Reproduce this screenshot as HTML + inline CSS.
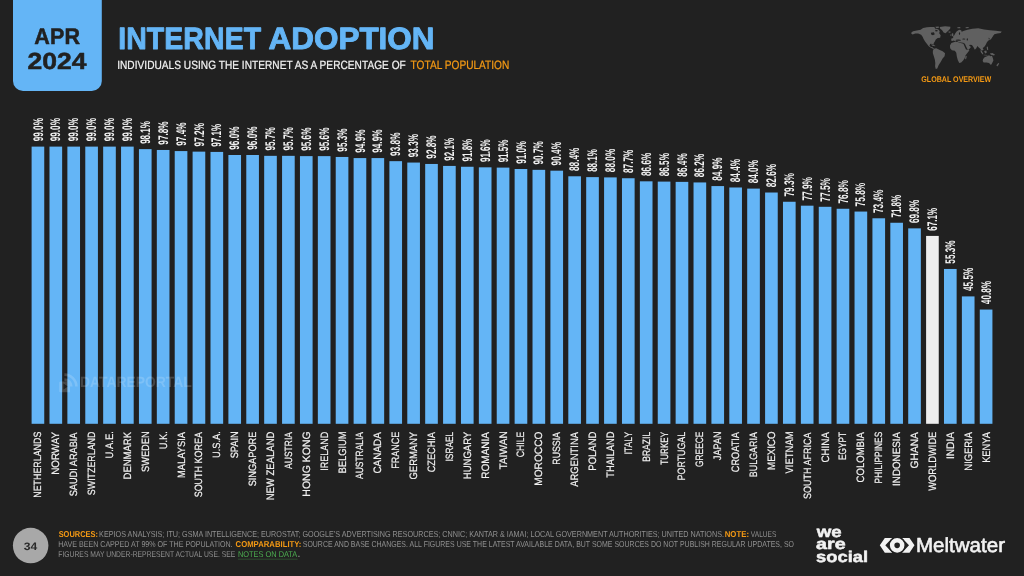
<!DOCTYPE html>
<html lang="en">
<head>
<meta charset="utf-8">
<title>Internet Adoption</title>
<style>
html,body{margin:0;padding:0;background:#212121;}
body{width:1024px;height:576px;overflow:hidden;font-family:'Liberation Sans', sans-serif;}
svg{display:block;will-change:transform;}
</style>
</head>
<body>
<svg width="1024" height="576" viewBox="0 0 1024 576" font-family="'Liberation Sans', sans-serif" text-rendering="geometricPrecision">
<rect width="1024" height="576" fill="#212121"/>
<path d="M13 0H101.8V80.9a10 10 0 0 1-10 10H23a10 10 0 0 1-10-10Z" fill="#64b5f6"/>
<g id="bars">
<rect x="31.6" y="146.6" width="12.65" height="277.2" fill="#64b5f6"/>
<rect x="49.49" y="146.6" width="12.65" height="277.2" fill="#64b5f6"/>
<rect x="67.38" y="146.6" width="12.65" height="277.2" fill="#64b5f6"/>
<rect x="85.27" y="146.6" width="12.65" height="277.2" fill="#64b5f6"/>
<rect x="103.16" y="146.6" width="12.65" height="277.2" fill="#64b5f6"/>
<rect x="121.05" y="146.6" width="12.65" height="277.2" fill="#64b5f6"/>
<rect x="138.94" y="149.12" width="12.65" height="274.68" fill="#64b5f6"/>
<rect x="156.83" y="149.96" width="12.65" height="273.84" fill="#64b5f6"/>
<rect x="174.72" y="151.08" width="12.65" height="272.72" fill="#64b5f6"/>
<rect x="192.61" y="151.64" width="12.65" height="272.16" fill="#64b5f6"/>
<rect x="210.5" y="151.92" width="12.65" height="271.88" fill="#64b5f6"/>
<rect x="228.39" y="155" width="12.65" height="268.8" fill="#64b5f6"/>
<rect x="246.28" y="155" width="12.65" height="268.8" fill="#64b5f6"/>
<rect x="264.17" y="155.84" width="12.65" height="267.96" fill="#64b5f6"/>
<rect x="282.06" y="155.84" width="12.65" height="267.96" fill="#64b5f6"/>
<rect x="299.95" y="156.12" width="12.65" height="267.68" fill="#64b5f6"/>
<rect x="317.84" y="156.12" width="12.65" height="267.68" fill="#64b5f6"/>
<rect x="335.73" y="156.96" width="12.65" height="266.84" fill="#64b5f6"/>
<rect x="353.62" y="158.08" width="12.65" height="265.72" fill="#64b5f6"/>
<rect x="371.51" y="158.08" width="12.65" height="265.72" fill="#64b5f6"/>
<rect x="389.4" y="161.16" width="12.65" height="262.64" fill="#64b5f6"/>
<rect x="407.29" y="162.56" width="12.65" height="261.24" fill="#64b5f6"/>
<rect x="425.18" y="163.96" width="12.65" height="259.84" fill="#64b5f6"/>
<rect x="443.07" y="165.92" width="12.65" height="257.88" fill="#64b5f6"/>
<rect x="460.96" y="166.76" width="12.65" height="257.04" fill="#64b5f6"/>
<rect x="478.85" y="167.32" width="12.65" height="256.48" fill="#64b5f6"/>
<rect x="496.74" y="167.6" width="12.65" height="256.2" fill="#64b5f6"/>
<rect x="514.63" y="169" width="12.65" height="254.8" fill="#64b5f6"/>
<rect x="532.52" y="169.84" width="12.65" height="253.96" fill="#64b5f6"/>
<rect x="550.41" y="170.68" width="12.65" height="253.12" fill="#64b5f6"/>
<rect x="568.3" y="176.28" width="12.65" height="247.52" fill="#64b5f6"/>
<rect x="586.19" y="177.12" width="12.65" height="246.68" fill="#64b5f6"/>
<rect x="604.08" y="177.4" width="12.65" height="246.4" fill="#64b5f6"/>
<rect x="621.97" y="178.24" width="12.65" height="245.56" fill="#64b5f6"/>
<rect x="639.86" y="181.32" width="12.65" height="242.48" fill="#64b5f6"/>
<rect x="657.75" y="181.6" width="12.65" height="242.2" fill="#64b5f6"/>
<rect x="675.64" y="181.88" width="12.65" height="241.92" fill="#64b5f6"/>
<rect x="693.53" y="182.44" width="12.65" height="241.36" fill="#64b5f6"/>
<rect x="711.42" y="186.08" width="12.65" height="237.72" fill="#64b5f6"/>
<rect x="729.31" y="187.48" width="12.65" height="236.32" fill="#64b5f6"/>
<rect x="747.2" y="188.6" width="12.65" height="235.2" fill="#64b5f6"/>
<rect x="765.09" y="192.52" width="12.65" height="231.28" fill="#64b5f6"/>
<rect x="782.98" y="201.76" width="12.65" height="222.04" fill="#64b5f6"/>
<rect x="800.87" y="205.68" width="12.65" height="218.12" fill="#64b5f6"/>
<rect x="818.76" y="206.8" width="12.65" height="217" fill="#64b5f6"/>
<rect x="836.65" y="208.76" width="12.65" height="215.04" fill="#64b5f6"/>
<rect x="854.54" y="211.56" width="12.65" height="212.24" fill="#64b5f6"/>
<rect x="872.43" y="218.28" width="12.65" height="205.52" fill="#64b5f6"/>
<rect x="890.32" y="222.76" width="12.65" height="201.04" fill="#64b5f6"/>
<rect x="908.21" y="228.36" width="12.65" height="195.44" fill="#64b5f6"/>
<rect x="926.1" y="235.92" width="12.65" height="187.88" fill="#eeeeee"/>
<rect x="943.99" y="268.96" width="12.65" height="154.84" fill="#64b5f6"/>
<rect x="961.88" y="296.4" width="12.65" height="127.4" fill="#64b5f6"/>
<rect x="979.77" y="309.56" width="12.65" height="114.24" fill="#64b5f6"/>
</g>
<g id="map">
<g transform="translate(906 22) scale(0.09766)" fill="#606060">
<path d="M55 108L72 95L110 88L150 80L175 62L215 55L250 50L290 52L300 70L330 75L345 95L340 115L355 135L350 160L325 165L305 180L295 200L285 215L280 235L270 225L250 222L240 240L255 255L272 258L285 272L290 280L270 272L250 262L230 245L215 225L195 200L180 175L170 150L155 130L125 118L95 118L68 128L55 120Z"/>
<path d="M345 50L400 44L455 48L452 68L430 92L405 116L385 108L368 82L350 68Z"/>
<path d="M300 48L335 46L338 60L310 64Z"/>
<path d="M285 275L310 270L340 285L375 300L400 320L395 350L375 375L355 410L335 440L320 475L305 482L298 455L300 420L295 385L285 350L275 320L275 295Z"/>
<path d="M462 190L465 170L485 165L480 150L495 135L505 115L520 95L545 80L565 85L570 100L595 90L630 80L680 70L740 65L800 78L860 85L920 90L980 98L970 112L935 118L905 125L885 150L865 170L845 160L850 185L830 205L815 235L800 255L785 265L795 285L775 295L760 275L745 260L730 245L720 270L705 285L690 255L675 235L655 232L645 238L665 255L655 270L635 288L618 255L603 222L585 212L560 210L540 205L520 195L505 200L490 190L475 195Z"/>
<path d="M450 240L465 215L495 205L530 205L560 215L588 222L600 250L614 282L650 288L630 315L610 340L600 370L585 395L565 415L545 420L530 390L520 350L515 315L500 295L470 290L452 270Z"/>
<path d="M608 350L622 345L618 375L605 385Z"/>
<path d="M790 380L805 360L830 350L850 340L865 350L880 345L890 370L895 395L880 425L870 440L850 420L825 415L795 415L785 400Z"/>
<path d="M760 290L775 295L792 325L785 332L768 312Z"/>
<path d="M800 298L822 292L828 312L810 322Z"/>
<path d="M826 255L838 252L842 288L830 285Z"/>
<path d="M858 322L885 318L912 335L900 342L870 336Z"/>
<path d="M795 335L835 338L835 344L795 341Z"/>
<path d="M862 150L880 135L886 150L872 175L855 186L852 178Z"/>
<path d="M468 120L482 112L486 140L470 148Z"/>
<path d="M455 128L464 126L464 140L455 140Z"/>
<path d="M435 98L455 96L457 107L438 109Z"/>
<path d="M925 442L945 420L955 426L936 456Z"/>
<path d="M525 55L555 52L557 63L528 65Z"/>
<path d="M610 55L640 52L642 62L612 64Z"/>
<path d="M255 228L285 236L300 244L298 249L270 242Z"/>
<g fill="#212121">
<path d="M255 110L285 105L295 125L275 136L258 128Z"/>
<path d="M300 80L325 85L320 98L300 95Z"/>
<ellipse cx="535" cy="186" rx="28" ry="7"/>
<ellipse cx="592" cy="174" rx="16" ry="6"/>
<ellipse cx="628" cy="178" rx="6" ry="12"/>
<ellipse cx="548" cy="118" rx="6" ry="14"/>
</g>
</g>

</g>
<circle cx="30.65" cy="545.6" r="17.75" fill="#a8a8a8"/>
<g id="wm-icon" fill="none" stroke="#fff" stroke-opacity="0.17" stroke-width="2.6">
<path d="M64.4 374.6a12 12 0 0 1 12 12"/>
<path d="M64.4 379.6a7 7 0 0 1 7 7"/>
</g>
<path d="M60.2 381.6h5.6a4.2 4.2 0 0 1 4.2 4.2v6.4h-9.6a1.2 1.2 0 0 1-1.2-1.2v-8.2a1.2 1.2 0 0 1 1-1.2ZM63.4 383.6v5.8l4.6-2.9Z" fill="#fff" fill-opacity="0.17" fill-rule="evenodd"/>
<g id="meltwater" fill="#f2f2f2">
<path d="M884.8 538h7.4l-6.9 7.35 6.9 7.35h-7.4l-5-7.35Z"/>
<path d="M909.5 538h-7.4l6.9 7.35-6.9 7.35h7.4l5-7.35Z"/>
<circle cx="897.15" cy="545.35" r="8.5" fill="#212121"/>
<circle cx="897.15" cy="545.35" r="5.05" fill="none" stroke="#f2f2f2" stroke-width="4.5"/>
</g>
<line x1="238.5" y1="559.2" x2="297.3" y2="559.2" stroke="#4caf50" stroke-width="0.6" stroke-dasharray="1 1"/>
<g id="labels">
<text transform="translate(34.32 43.5) scale(0.09619 0.10000)" font-size="225" font-weight="bold" stroke="#212121" stroke-width="5" stroke-linejoin="round" fill="#212121">APR</text>
<text transform="translate(27.46 69) scale(0.11414 0.10000)" font-size="232.14" font-weight="bold" stroke="#212121" stroke-width="5" stroke-linejoin="round" fill="#212121">2024</text>
<text transform="translate(118.23 48.95) scale(0.09222 0.10000)" font-size="310" font-weight="bold" stroke="#64b5f6" stroke-width="9" stroke-linejoin="round" fill="#64b5f6">INTERNET</text>
<text transform="translate(268.52 48.95) scale(0.10145 0.10000)" font-size="310" font-weight="bold" stroke="#64b5f6" stroke-width="9" stroke-linejoin="round" fill="#64b5f6">ADOPTION</text>
<text transform="translate(117.21 69.38) scale(0.08441 0.10000)" font-size="120.42" stroke="#f2f2f2" stroke-width="2.5" stroke-linejoin="round" fill="#f2f2f2">INDIVIDUALS USING THE INTERNET AS A PERCENTAGE OF</text>
<text transform="translate(410.62 69.38) scale(0.08295 0.10000)" font-size="122.14" stroke="#f59a14" stroke-width="2.5" stroke-linejoin="round" fill="#f59a14">TOTAL POPULATION</text>
<text transform="translate(921.32 81.8) scale(0.08564 0.10000)" font-size="82.86" font-weight="bold" fill="#f59a14">GLOBAL OVERVIEW</text>
<text transform="translate(23.76 549.7) scale(0.11175 0.10000)" font-size="108.57" font-weight="bold" fill="#2a2a2a">34</text>
<text transform="translate(58.65 536.9) scale(0.08696 0.10000)" font-size="85.71" font-weight="bold" fill="#f59a14">SOURCES:</text>
<text transform="translate(99.12 536.9) scale(0.08301 0.10000)" font-size="86.96" fill="#909090">KEPIOS ANALYSIS; ITU; GSMA INTELLIGENCE; EUROSTAT; GOOGLE’S ADVERTISING RESOURCES; CNNIC; KANTAR &amp; IAMAI; LOCAL GOVERNMENT AUTHORITIES; UNITED NATIONS.</text>
<text transform="translate(724.73 536.9) scale(0.09111 0.10000)" font-size="85.71" font-weight="bold" fill="#f59a14">NOTE:</text>
<text transform="translate(750.8 536.9) scale(0.07837 0.10000)" font-size="84.51" fill="#909090">VALUES</text>
<text transform="translate(58.23 547.2) scale(0.08275 0.10000)" font-size="85.71" fill="#909090">HAVE BEEN CAPPED AT 99% OF THE POPULATION.</text>
<text transform="translate(235.59 547.2) scale(0.09017 0.10000)" font-size="85.71" font-weight="bold" fill="#f59a14">COMPARABILITY:</text>
<text transform="translate(302.72 547.2) scale(0.08037 0.10000)" font-size="86.96" fill="#909090">SOURCE AND BASE CHANGES. ALL FIGURES USE THE LATEST AVAILABLE DATA, BUT SOME SOURCES DO NOT PUBLISH REGULAR UPDATES, SO</text>
<text transform="translate(58.26 557.2) scale(0.08032 0.10000)" font-size="84.51" fill="#909090">FIGURES MAY UNDER-REPRESENT ACTUAL USE. SEE</text>
<text transform="translate(237.91 557.2) scale(0.08761 0.10000)" font-size="84.51" fill="#4caf50">NOTES ON DATA</text>
<text transform="translate(297.22 557.2) scale(0.11000 0.10000)" font-size="109.09" fill="#909090">.</text>
<text transform="translate(816.69 536.65) scale(0.12025 0.10000)" font-size="155.56" font-weight="bold" stroke="#f2f2f2" stroke-width="5" stroke-linejoin="round" fill="#f2f2f2">we</text>
<text transform="translate(816.1 549.25) scale(0.12700 0.10000)" font-size="155.56" font-weight="bold" stroke="#f2f2f2" stroke-width="5" stroke-linejoin="round" fill="#f2f2f2">are</text>
<text transform="translate(815.95 562.05) scale(0.11825 0.10000)" font-size="155.56" font-weight="bold" stroke="#f2f2f2" stroke-width="5" stroke-linejoin="round" fill="#f2f2f2">social</text>
<text transform="translate(915.96 552.4) scale(0.10049 0.10000)" font-size="204.35" stroke="#f2f2f2" stroke-width="6" stroke-linejoin="round" fill="#f2f2f2">Meltwater</text>
<text transform="translate(79.97 386.7) scale(0.09255 0.10000)" font-size="150" font-weight="bold" fill="rgba(255,255,255,0.17)">DATAREPORTAL</text>
<text transform="translate(41.43 497.71) rotate(-90) scale(0.08396 0.10000)" font-size="105.63" stroke="#f2f2f2" stroke-width="2" stroke-linejoin="round" fill="#f2f2f2">NETHERLANDS</text>
<text transform="translate(42.53 141.35) rotate(-90) scale(0.05896 0.10000)" font-size="140" font-weight="bold" fill="#f2f2f2">99.0%</text>
<text transform="translate(59.32 474.79) rotate(-90) scale(0.09173 0.10000)" font-size="107.14" stroke="#f2f2f2" stroke-width="2" stroke-linejoin="round" fill="#f2f2f2">NORWAY</text>
<text transform="translate(60.42 141.35) rotate(-90) scale(0.05896 0.10000)" font-size="140" font-weight="bold" fill="#f2f2f2">99.0%</text>
<text transform="translate(77.2 496.27) rotate(-90) scale(0.08685 0.10000)" font-size="105.63" stroke="#f2f2f2" stroke-width="2" stroke-linejoin="round" fill="#f2f2f2">SAUDI ARABIA</text>
<text transform="translate(78.3 141.35) rotate(-90) scale(0.05896 0.10000)" font-size="140" font-weight="bold" fill="#f2f2f2">99.0%</text>
<text transform="translate(95.1 495.15) rotate(-90) scale(0.08391 0.10000)" font-size="105.63" stroke="#f2f2f2" stroke-width="2" stroke-linejoin="round" fill="#f2f2f2">SWITZERLAND</text>
<text transform="translate(96.2 141.35) rotate(-90) scale(0.05896 0.10000)" font-size="140" font-weight="bold" fill="#f2f2f2">99.0%</text>
<text transform="translate(112.98 458.56) rotate(-90) scale(0.08722 0.10000)" font-size="108.7" stroke="#f2f2f2" stroke-width="2" stroke-linejoin="round" fill="#f2f2f2">U.A.E.</text>
<text transform="translate(114.08 141.35) rotate(-90) scale(0.05896 0.10000)" font-size="140" font-weight="bold" fill="#f2f2f2">99.0%</text>
<text transform="translate(130.88 479.46) rotate(-90) scale(0.08871 0.10000)" font-size="107.14" stroke="#f2f2f2" stroke-width="2" stroke-linejoin="round" fill="#f2f2f2">DENMARK</text>
<text transform="translate(131.98 141.35) rotate(-90) scale(0.05896 0.10000)" font-size="140" font-weight="bold" fill="#f2f2f2">99.0%</text>
<text transform="translate(148.76 471.97) rotate(-90) scale(0.08765 0.10000)" font-size="105.63" stroke="#f2f2f2" stroke-width="2" stroke-linejoin="round" fill="#f2f2f2">SWEDEN</text>
<text transform="translate(149.86 143.86) rotate(-90) scale(0.05717 0.10000)" font-size="140" font-weight="bold" fill="#f2f2f2">98.1%</text>
<text transform="translate(166.66 449.25) rotate(-90) scale(0.08546 0.10000)" font-size="108.7" stroke="#f2f2f2" stroke-width="2" stroke-linejoin="round" fill="#f2f2f2">U.K.</text>
<text transform="translate(167.75 144.71) rotate(-90) scale(0.05896 0.10000)" font-size="140" font-weight="bold" fill="#f2f2f2">97.8%</text>
<text transform="translate(184.54 477.95) rotate(-90) scale(0.08821 0.10000)" font-size="105.63" stroke="#f2f2f2" stroke-width="2" stroke-linejoin="round" fill="#f2f2f2">MALAYSIA</text>
<text transform="translate(185.64 145.83) rotate(-90) scale(0.05896 0.10000)" font-size="140" font-weight="bold" fill="#f2f2f2">97.4%</text>
<text transform="translate(202.43 497.36) rotate(-90) scale(0.08497 0.10000)" font-size="105.63" stroke="#f2f2f2" stroke-width="2" stroke-linejoin="round" fill="#f2f2f2">SOUTH KOREA</text>
<text transform="translate(203.53 146.39) rotate(-90) scale(0.05896 0.10000)" font-size="140" font-weight="bold" fill="#f2f2f2">97.2%</text>
<text transform="translate(220.32 458.05) rotate(-90) scale(0.08802 0.10000)" font-size="105.63" stroke="#f2f2f2" stroke-width="2" stroke-linejoin="round" fill="#f2f2f2">U.S.A.</text>
<text transform="translate(221.42 146.66) rotate(-90) scale(0.05717 0.10000)" font-size="140" font-weight="bold" fill="#f2f2f2">97.1%</text>
<text transform="translate(238.22 458.27) rotate(-90) scale(0.08711 0.10000)" font-size="105.63" stroke="#f2f2f2" stroke-width="2" stroke-linejoin="round" fill="#f2f2f2">SPAIN</text>
<text transform="translate(239.31 149.75) rotate(-90) scale(0.05896 0.10000)" font-size="140" font-weight="bold" fill="#f2f2f2">96.0%</text>
<text transform="translate(256.1 486.37) rotate(-90) scale(0.08710 0.10000)" font-size="105.63" stroke="#f2f2f2" stroke-width="2" stroke-linejoin="round" fill="#f2f2f2">SINGAPORE</text>
<text transform="translate(257.2 149.75) rotate(-90) scale(0.05896 0.10000)" font-size="140" font-weight="bold" fill="#f2f2f2">96.0%</text>
<text transform="translate(274 500.36) rotate(-90) scale(0.08758 0.10000)" font-size="108.7" stroke="#f2f2f2" stroke-width="2" stroke-linejoin="round" fill="#f2f2f2">NEW ZEALAND</text>
<text transform="translate(275.1 150.59) rotate(-90) scale(0.05896 0.10000)" font-size="140" font-weight="bold" fill="#f2f2f2">95.7%</text>
<text transform="translate(291.88 468.9) rotate(-90) scale(0.08054 0.10000)" font-size="105.63" stroke="#f2f2f2" stroke-width="2" stroke-linejoin="round" fill="#f2f2f2">AUSTRIA</text>
<text transform="translate(292.99 150.59) rotate(-90) scale(0.05896 0.10000)" font-size="140" font-weight="bold" fill="#f2f2f2">95.7%</text>
<text transform="translate(309.78 496.64) rotate(-90) scale(0.09802 0.10000)" font-size="107.14" stroke="#f2f2f2" stroke-width="2" stroke-linejoin="round" fill="#f2f2f2">HONG KONG</text>
<text transform="translate(310.88 150.87) rotate(-90) scale(0.05896 0.10000)" font-size="140" font-weight="bold" fill="#f2f2f2">95.6%</text>
<text transform="translate(327.67 470.71) rotate(-90) scale(0.08418 0.10000)" font-size="107.14" stroke="#f2f2f2" stroke-width="2" stroke-linejoin="round" fill="#f2f2f2">IRELAND</text>
<text transform="translate(328.77 150.87) rotate(-90) scale(0.05896 0.10000)" font-size="140" font-weight="bold" fill="#f2f2f2">95.6%</text>
<text transform="translate(345.56 473.55) rotate(-90) scale(0.08758 0.10000)" font-size="107.14" stroke="#f2f2f2" stroke-width="2" stroke-linejoin="round" fill="#f2f2f2">BELGIUM</text>
<text transform="translate(346.66 151.71) rotate(-90) scale(0.05896 0.10000)" font-size="140" font-weight="bold" fill="#f2f2f2">95.3%</text>
<text transform="translate(363.44 479) rotate(-90) scale(0.08002 0.10000)" font-size="105.63" stroke="#f2f2f2" stroke-width="2" stroke-linejoin="round" fill="#f2f2f2">AUSTRALIA</text>
<text transform="translate(364.55 152.83) rotate(-90) scale(0.05896 0.10000)" font-size="140" font-weight="bold" fill="#f2f2f2">94.9%</text>
<text transform="translate(381.34 473.6) rotate(-90) scale(0.09310 0.10000)" font-size="107.14" stroke="#f2f2f2" stroke-width="2" stroke-linejoin="round" fill="#f2f2f2">CANADA</text>
<text transform="translate(382.44 152.83) rotate(-90) scale(0.05896 0.10000)" font-size="140" font-weight="bold" fill="#f2f2f2">94.9%</text>
<text transform="translate(399.23 468.72) rotate(-90) scale(0.08412 0.10000)" font-size="107.14" stroke="#f2f2f2" stroke-width="2" stroke-linejoin="round" fill="#f2f2f2">FRANCE</text>
<text transform="translate(400.33 155.91) rotate(-90) scale(0.05896 0.10000)" font-size="140" font-weight="bold" fill="#f2f2f2">93.8%</text>
<text transform="translate(417.12 479.47) rotate(-90) scale(0.08792 0.10000)" font-size="107.14" stroke="#f2f2f2" stroke-width="2" stroke-linejoin="round" fill="#f2f2f2">GERMANY</text>
<text transform="translate(418.22 157.31) rotate(-90) scale(0.05896 0.10000)" font-size="140" font-weight="bold" fill="#f2f2f2">93.3%</text>
<text transform="translate(435.01 472.26) rotate(-90) scale(0.08555 0.10000)" font-size="107.14" stroke="#f2f2f2" stroke-width="2" stroke-linejoin="round" fill="#f2f2f2">CZECHIA</text>
<text transform="translate(436.11 158.71) rotate(-90) scale(0.05896 0.10000)" font-size="140" font-weight="bold" fill="#f2f2f2">92.8%</text>
<text transform="translate(452.9 461.45) rotate(-90) scale(0.07896 0.10000)" font-size="105.63" stroke="#f2f2f2" stroke-width="2" stroke-linejoin="round" fill="#f2f2f2">ISRAEL</text>
<text transform="translate(454 160.66) rotate(-90) scale(0.05717 0.10000)" font-size="140" font-weight="bold" fill="#f2f2f2">92.1%</text>
<text transform="translate(470.79 479.16) rotate(-90) scale(0.08864 0.10000)" font-size="107.14" stroke="#f2f2f2" stroke-width="2" stroke-linejoin="round" fill="#f2f2f2">HUNGARY</text>
<text transform="translate(471.89 161.5) rotate(-90) scale(0.05717 0.10000)" font-size="140" font-weight="bold" fill="#f2f2f2">91.8%</text>
<text transform="translate(488.68 478.7) rotate(-90) scale(0.09333 0.10000)" font-size="107.14" stroke="#f2f2f2" stroke-width="2" stroke-linejoin="round" fill="#f2f2f2">ROMANIA</text>
<text transform="translate(489.78 162.06) rotate(-90) scale(0.05717 0.10000)" font-size="140" font-weight="bold" fill="#f2f2f2">91.6%</text>
<text transform="translate(506.56 469.6) rotate(-90) scale(0.09337 0.10000)" font-size="108.7" stroke="#f2f2f2" stroke-width="2" stroke-linejoin="round" fill="#f2f2f2">TAIWAN</text>
<text transform="translate(507.67 162.34) rotate(-90) scale(0.05717 0.10000)" font-size="140" font-weight="bold" fill="#f2f2f2">91.5%</text>
<text transform="translate(524.46 457.13) rotate(-90) scale(0.08065 0.10000)" font-size="107.14" stroke="#f2f2f2" stroke-width="2" stroke-linejoin="round" fill="#f2f2f2">CHILE</text>
<text transform="translate(525.56 163.74) rotate(-90) scale(0.05717 0.10000)" font-size="140" font-weight="bold" fill="#f2f2f2">91.0%</text>
<text transform="translate(542.35 485.81) rotate(-90) scale(0.09503 0.10000)" font-size="107.14" stroke="#f2f2f2" stroke-width="2" stroke-linejoin="round" fill="#f2f2f2">MOROCCO</text>
<text transform="translate(543.45 164.59) rotate(-90) scale(0.05896 0.10000)" font-size="140" font-weight="bold" fill="#f2f2f2">90.7%</text>
<text transform="translate(560.24 464.7) rotate(-90) scale(0.08308 0.10000)" font-size="105.63" stroke="#f2f2f2" stroke-width="2" stroke-linejoin="round" fill="#f2f2f2">RUSSIA</text>
<text transform="translate(561.34 165.43) rotate(-90) scale(0.05896 0.10000)" font-size="140" font-weight="bold" fill="#f2f2f2">90.4%</text>
<text transform="translate(578.13 486.7) rotate(-90) scale(0.08747 0.10000)" font-size="107.14" stroke="#f2f2f2" stroke-width="2" stroke-linejoin="round" fill="#f2f2f2">ARGENTINA</text>
<text transform="translate(579.23 171.03) rotate(-90) scale(0.05896 0.10000)" font-size="140" font-weight="bold" fill="#f2f2f2">88.4%</text>
<text transform="translate(596.02 470.66) rotate(-90) scale(0.08865 0.10000)" font-size="107.14" stroke="#f2f2f2" stroke-width="2" stroke-linejoin="round" fill="#f2f2f2">POLAND</text>
<text transform="translate(597.12 171.86) rotate(-90) scale(0.05717 0.10000)" font-size="140" font-weight="bold" fill="#f2f2f2">88.1%</text>
<text transform="translate(613.91 477.79) rotate(-90) scale(0.08591 0.10000)" font-size="108.7" stroke="#f2f2f2" stroke-width="2" stroke-linejoin="round" fill="#f2f2f2">THAILAND</text>
<text transform="translate(615.01 172.15) rotate(-90) scale(0.05896 0.10000)" font-size="140" font-weight="bold" fill="#f2f2f2">88.0%</text>
<text transform="translate(631.8 454.58) rotate(-90) scale(0.07948 0.10000)" font-size="108.7" stroke="#f2f2f2" stroke-width="2" stroke-linejoin="round" fill="#f2f2f2">ITALY</text>
<text transform="translate(632.9 172.99) rotate(-90) scale(0.05896 0.10000)" font-size="140" font-weight="bold" fill="#f2f2f2">87.7%</text>
<text transform="translate(649.69 461.79) rotate(-90) scale(0.08000 0.10000)" font-size="107.14" stroke="#f2f2f2" stroke-width="2" stroke-linejoin="round" fill="#f2f2f2">BRAZIL</text>
<text transform="translate(650.79 176.07) rotate(-90) scale(0.05896 0.10000)" font-size="140" font-weight="bold" fill="#f2f2f2">86.6%</text>
<text transform="translate(667.58 464.66) rotate(-90) scale(0.07547 0.10000)" font-size="107.14" stroke="#f2f2f2" stroke-width="2" stroke-linejoin="round" fill="#f2f2f2">TURKEY</text>
<text transform="translate(668.68 176.35) rotate(-90) scale(0.05896 0.10000)" font-size="140" font-weight="bold" fill="#f2f2f2">86.5%</text>
<text transform="translate(685.47 480.41) rotate(-90) scale(0.08280 0.10000)" font-size="107.14" stroke="#f2f2f2" stroke-width="2" stroke-linejoin="round" fill="#f2f2f2">PORTUGAL</text>
<text transform="translate(686.57 176.63) rotate(-90) scale(0.05896 0.10000)" font-size="140" font-weight="bold" fill="#f2f2f2">86.4%</text>
<text transform="translate(703.36 466.92) rotate(-90) scale(0.07785 0.10000)" font-size="107.14" stroke="#f2f2f2" stroke-width="2" stroke-linejoin="round" fill="#f2f2f2">GREECE</text>
<text transform="translate(704.46 177.19) rotate(-90) scale(0.05896 0.10000)" font-size="140" font-weight="bold" fill="#f2f2f2">86.2%</text>
<text transform="translate(721.25 460.19) rotate(-90) scale(0.08430 0.10000)" font-size="108.7" stroke="#f2f2f2" stroke-width="2" stroke-linejoin="round" fill="#f2f2f2">JAPAN</text>
<text transform="translate(722.35 180.83) rotate(-90) scale(0.05896 0.10000)" font-size="140" font-weight="bold" fill="#f2f2f2">84.9%</text>
<text transform="translate(739.14 472.26) rotate(-90) scale(0.08592 0.10000)" font-size="107.14" stroke="#f2f2f2" stroke-width="2" stroke-linejoin="round" fill="#f2f2f2">CROATIA</text>
<text transform="translate(740.24 182.23) rotate(-90) scale(0.05896 0.10000)" font-size="140" font-weight="bold" fill="#f2f2f2">84.4%</text>
<text transform="translate(757.03 477.21) rotate(-90) scale(0.08340 0.10000)" font-size="107.14" stroke="#f2f2f2" stroke-width="2" stroke-linejoin="round" fill="#f2f2f2">BULGARIA</text>
<text transform="translate(758.13 183.35) rotate(-90) scale(0.05896 0.10000)" font-size="140" font-weight="bold" fill="#f2f2f2">84.0%</text>
<text transform="translate(774.92 469.98) rotate(-90) scale(0.09096 0.10000)" font-size="107.14" stroke="#f2f2f2" stroke-width="2" stroke-linejoin="round" fill="#f2f2f2">MEXICO</text>
<text transform="translate(776.02 187.27) rotate(-90) scale(0.05896 0.10000)" font-size="140" font-weight="bold" fill="#f2f2f2">82.6%</text>
<text transform="translate(792.81 473.5) rotate(-90) scale(0.08733 0.10000)" font-size="108.7" stroke="#f2f2f2" stroke-width="2" stroke-linejoin="round" fill="#f2f2f2">VIETNAM</text>
<text transform="translate(793.91 196.59) rotate(-90) scale(0.05917 0.10000)" font-size="140" font-weight="bold" fill="#f2f2f2">79.3%</text>
<text transform="translate(810.7 499.06) rotate(-90) scale(0.08524 0.10000)" font-size="105.63" stroke="#f2f2f2" stroke-width="2" stroke-linejoin="round" fill="#f2f2f2">SOUTH AFRICA</text>
<text transform="translate(811.8 200.51) rotate(-90) scale(0.05917 0.10000)" font-size="140" font-weight="bold" fill="#f2f2f2">77.9%</text>
<text transform="translate(828.59 462.59) rotate(-90) scale(0.09168 0.10000)" font-size="107.14" stroke="#f2f2f2" stroke-width="2" stroke-linejoin="round" fill="#f2f2f2">CHINA</text>
<text transform="translate(829.69 201.63) rotate(-90) scale(0.05917 0.10000)" font-size="140" font-weight="bold" fill="#f2f2f2">77.5%</text>
<text transform="translate(846.48 459.96) rotate(-90) scale(0.07747 0.10000)" font-size="107.14" stroke="#f2f2f2" stroke-width="2" stroke-linejoin="round" fill="#f2f2f2">EGYPT</text>
<text transform="translate(847.58 203.59) rotate(-90) scale(0.05917 0.10000)" font-size="140" font-weight="bold" fill="#f2f2f2">76.8%</text>
<text transform="translate(864.37 482.38) rotate(-90) scale(0.08902 0.10000)" font-size="107.14" stroke="#f2f2f2" stroke-width="2" stroke-linejoin="round" fill="#f2f2f2">COLOMBIA</text>
<text transform="translate(865.47 206.39) rotate(-90) scale(0.05917 0.10000)" font-size="140" font-weight="bold" fill="#f2f2f2">75.8%</text>
<text transform="translate(882.26 483.47) rotate(-90) scale(0.07946 0.10000)" font-size="105.63" stroke="#f2f2f2" stroke-width="2" stroke-linejoin="round" fill="#f2f2f2">PHILIPPINES</text>
<text transform="translate(883.36 213.11) rotate(-90) scale(0.05917 0.10000)" font-size="140" font-weight="bold" fill="#f2f2f2">73.4%</text>
<text transform="translate(900.15 485.88) rotate(-90) scale(0.09267 0.10000)" font-size="105.63" stroke="#f2f2f2" stroke-width="2" stroke-linejoin="round" fill="#f2f2f2">INDONESIA</text>
<text transform="translate(901.25 217.58) rotate(-90) scale(0.05737 0.10000)" font-size="140" font-weight="bold" fill="#f2f2f2">71.8%</text>
<text transform="translate(918.04 468.51) rotate(-90) scale(0.09575 0.10000)" font-size="107.14" stroke="#f2f2f2" stroke-width="2" stroke-linejoin="round" fill="#f2f2f2">GHANA</text>
<text transform="translate(919.14 223.11) rotate(-90) scale(0.05896 0.10000)" font-size="140" font-weight="bold" fill="#f2f2f2">69.8%</text>
<text transform="translate(935.93 490.7) rotate(-90) scale(0.08702 0.10000)" font-size="107.14" stroke="#f2f2f2" stroke-width="2" stroke-linejoin="round" fill="#f2f2f2">WORLDWIDE</text>
<text transform="translate(937.03 230.66) rotate(-90) scale(0.05717 0.10000)" font-size="140" font-weight="bold" fill="#f2f2f2">67.1%</text>
<text transform="translate(953.82 459.11) rotate(-90) scale(0.09343 0.10000)" font-size="108.7" stroke="#f2f2f2" stroke-width="2" stroke-linejoin="round" fill="#f2f2f2">INDIA</text>
<text transform="translate(954.92 263.71) rotate(-90) scale(0.05896 0.10000)" font-size="140" font-weight="bold" fill="#f2f2f2">55.3%</text>
<text transform="translate(971.71 470.65) rotate(-90) scale(0.08767 0.10000)" font-size="107.14" stroke="#f2f2f2" stroke-width="2" stroke-linejoin="round" fill="#f2f2f2">NIGERIA</text>
<text transform="translate(972.81 290.98) rotate(-90) scale(0.05854 0.10000)" font-size="140" font-weight="bold" fill="#f2f2f2">45.5%</text>
<text transform="translate(989.6 462.84) rotate(-90) scale(0.08550 0.10000)" font-size="108.7" stroke="#f2f2f2" stroke-width="2" stroke-linejoin="round" fill="#f2f2f2">KENYA</text>
<text transform="translate(990.7 304.14) rotate(-90) scale(0.05854 0.10000)" font-size="140" font-weight="bold" fill="#f2f2f2">40.8%</text>
</g>
</svg>
</body>
</html>
